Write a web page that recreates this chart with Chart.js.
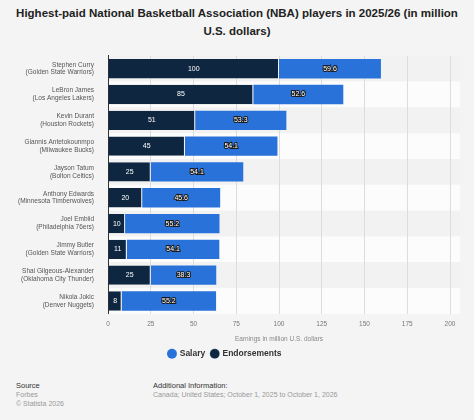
<!DOCTYPE html>
<html>
<head>
<meta charset="utf-8">
<script src="https://cdn.jsdelivr.net/npm/chart.js@4/dist/chart.umd.min.js"></script>
<style>
  body { margin: 0; background: #f4f4f4; font-family: "Liberation Sans", Arial, sans-serif; }
  #wrap { position: relative; width: 474px; height: 420px; }
  h1 { position: absolute; top: 4px; left: 8px; width: 458px; margin: 0; font-size: 11.5px; line-height: 18px; text-align: center; color: #222; font-weight: bold; }
  #box { position: absolute; left: 0; top: 42px; width: 474px; height: 326px; }
  .foot { position: absolute; top: 381px; font-size: 7px; color: #999; line-height: 9px; }
  .foot b { color: #333; font-weight: normal; font-size: 7.5px; }
</style>
</head>
<body>
<div id="wrap">
  <h1>Highest-paid National Basketball Association (NBA) players in 2025/26 (in million U.S. dollars)</h1>
  <div id="box"><canvas id="chart"></canvas></div>
  <div class="foot" style="left:16px"><b>Source</b><br>Forbes<br>© Statista 2026</div>
  <div class="foot" style="left:153px"><b>Additional Information:</b><br>Canada; United States; October 1, 2025 to October 1, 2026</div>
</div>
<script>
const players = [
  ['Stephen Curry', '(Golden State Warriors)'],
  ['LeBron James', '(Los Angeles Lakers)'],
  ['Kevin Durant', '(Houston Rockets)'],
  ['Giannis Antetokounmpo', '(Milwaukee Bucks)'],
  ['Jayson Tatum', '(Bolton Celtics)'],
  ['Anthony Edwards', '(Minnesota Timberwolves)'],
  ['Joel Embiid', '(Philadelphia 76ers)'],
  ['Jimmy Butler', '(Golden State Warriors)'],
  ['Shai Gilgeous-Alexander', '(Oklahoma City Thunder)'],
  ['Nikola Jokic', '(Denver Nuggets)']
];
const endorsements = [100, 85, 51, 45, 25, 20, 10, 11, 25, 8];
const salary = [59.6, 52.6, 53.3, 54.1, 54.1, 45.6, 55.2, 54.1, 38.3, 55.2];

// alternating row stripes behind grid and bars
const stripes = {
  id: 'stripes',
  beforeDraw(chart) {
    const { ctx, chartArea: a } = chart;
    const step = (a.bottom - a.top) / players.length;
    ctx.save();
    for (let i = 0; i < players.length; i++) {
      ctx.fillStyle = i % 2 === 0 ? '#f2f2f2' : '#fcfcfc';
      ctx.fillRect(a.left, a.top + i * step, a.right - a.left + 10, step);
    }
    ctx.restore();
  }
};

// value labels centred inside each bar segment
const barLabels = {
  id: 'barLabels',
  afterDatasetsDraw(chart) {
    const ctx = chart.ctx;
    ctx.save();
    ctx.font = '7px "Liberation Sans", Arial, sans-serif';
    ctx.textAlign = 'center';
    ctx.textBaseline = 'middle';
    chart.data.datasets.forEach((ds, di) => {
      chart.getDatasetMeta(di).data.forEach((bar, i) => {
        const x = (bar.x + bar.base) / 2;
        const txt = String(ds.data[i]);
        if (di === 1) {
          ctx.lineWidth = 2;
          ctx.strokeStyle = '#1a1a1a';
          ctx.strokeText(txt, x, bar.y);
        }
        ctx.fillStyle = '#fff';
        ctx.fillText(txt, x, bar.y);
      });
    });
    ctx.restore();
  }
};

new Chart(document.getElementById('chart'), {
  type: 'bar',
  data: {
    labels: players,
    datasets: [
      { label: 'Endorsements', data: endorsements, backgroundColor: '#0f2640', borderColor: '#f4f4f4', borderWidth: { right: 1 }, barPercentage: 0.75, categoryPercentage: 1 },
      { label: 'Salary', data: salary, backgroundColor: '#2872d9', barPercentage: 0.75, categoryPercentage: 1 }
    ]
  },
  options: {
    indexAxis: 'y',
    responsive: true,
    maintainAspectRatio: false,
    animation: false,
    layout: { padding: { left: 0, right: 24, top: 8 } },
    plugins: {
      legend: {
        position: 'bottom',
        reverse: true,
        labels: { usePointStyle: true, pointStyle: 'circle', boxWidth: 7, boxHeight: 7, color: '#333', font: { size: 8.5, weight: 'bold', family: '"Liberation Sans", Arial' }, padding: 6 }
      },
      tooltip: { enabled: false }
    },
    scales: {
      x: {
        stacked: true, min: 0, max: 200,
        ticks: { stepSize: 25, color: '#777', font: { size: 6.5 }, padding: 6 },
        grid: { color: '#dcdcdc', drawTicks: false },
        border: { display: false },
        title: { display: true, text: 'Earnings in million U.S. dollars', color: '#888', font: { size: 6.5 }, padding: { top: 2, bottom: 0 } }
      },
      y: {
        stacked: true, afterFit(s) { s.width = 108; },
        ticks: { color: '#555', font: { size: 6.5 }, padding: 6 },
        grid: { display: false },
        border: { color: '#333' }
      }
    }
  },
  plugins: [stripes, barLabels]
});
</script>
</body>
</html>
